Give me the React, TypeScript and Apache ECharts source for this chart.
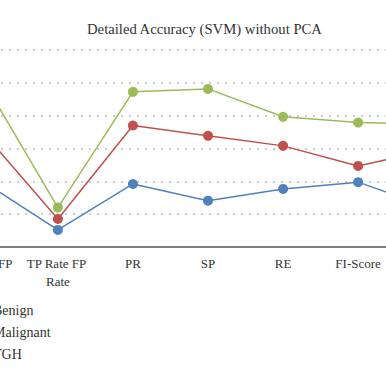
import React, { useEffect, useRef } from "react";
import * as echarts from "echarts";

const categories = ["TN Rate FP Rate", "TP Rate FP Rate", "PR", "SP", "RE", "FI-Score", "MCC"];
const benign = [0.40, 0.104, 0.384, 0.282, 0.354, 0.395, 0.234];
const malignant = [0.70, 0.171, 0.740, 0.677, 0.616, 0.494, 0.596];
const tgh = [1.018, 0.240, 0.945, 0.963, 0.793, 0.758, 0.748];
const seriesNames = ["Benign", "Malignant", "TGH"];
const colors = ["#4F81BD", "#C0504D", "#9BBB59"];

const FONT = "'Liberation Serif', 'DejaVu Serif', serif";
const OFFSET_LEFT = 56;
const OFFSET_RIGHT = 86;

export default function App() {
  const ref = useRef<HTMLDivElement>(null);
  useEffect(() => {
    if (!ref.current) return;
    const chart = echarts.init(ref.current, undefined, { renderer: "svg" });
    const data = [benign, malignant, tgh];
    chart.setOption({
      animation: false,
      backgroundColor: "#ffffff",
      title: {
        text: "Detailed Accuracy (SVM) without PCA",
        left: 82 + OFFSET_LEFT,
        top: 16,
        textStyle: { fontFamily: FONT, fontSize: 14.7, fontWeight: "normal", color: "#333" },
      },
      legend: {
        orient: "vertical",
        left: OFFSET_LEFT - 43,
        top: 298,
        itemWidth: 25,
        itemHeight: 14,
        itemGap: 8,
        data: seriesNames,
        textStyle: { fontFamily: FONT, fontSize: 14, color: "#333" },
      },
      grid: { left: 0, right: 0, top: 50, bottom: 139, containLabel: false },
      xAxis: {
        type: "category",
        data: categories,
        boundaryGap: true,
        axisLine: { lineStyle: { color: "#7f7f7f", width: 2 } },
        axisTick: { show: false },
        axisLabel: {
          interval: 0,
          color: "#333",
          fontFamily: FONT,
          fontSize: 13,
          lineHeight: 18,
          margin: 7,
          width: 72,
          overflow: "break",
        },
      },
      yAxis: {
        type: "value",
        min: 0,
        max: 1.2,
        interval: 0.2,
        axisLabel: { show: false },
        axisLine: { show: false },
        axisTick: { show: false },
        splitLine: { lineStyle: { color: "#a6a6a6", width: 1.5, type: [1.5, 6.5] } },
      },
      series: seriesNames.map((name, i) => ({
        name,
        type: "line",
        data: data[i],
        symbol: "circle",
        symbolSize: 10,
        color: colors[i],
        lineStyle: { width: 1.5, color: colors[i] },
        itemStyle: { color: colors[i] },
      })),
    });
    return () => chart.dispose();
  }, []);
  return (
    <div
      ref={ref}
      style={{
        position: "fixed",
        left: -OFFSET_LEFT,
        top: 0,
        width: 386 + OFFSET_LEFT + OFFSET_RIGHT,
        height: 386,
      }}
    />
  );
}
